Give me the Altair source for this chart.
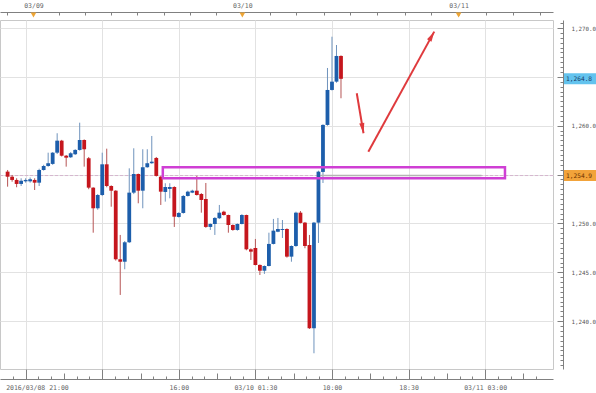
import math
import altair as alt
import pandas as pd

# ---------------- data (30-minute candles) ----------------
opens = [1255.30, 1254.78, 1254.45, 1254.04, 1254.31, 1254.31, 1254.45, 1254.17, 1255.47, 1255.88,
         1256.09, 1257.24, 1258.47, 1256.93, 1256.77, 1257.08, 1257.52, 1258.54, 1256.67, 1253.66,
         1251.55, 1252.91, 1256.05, 1253.83, 1253.35, 1246.33, 1246.08, 1248.07, 1253.15, 1255.06,
         1253.35, 1255.75, 1256.16, 1256.70, 1254.78, 1253.22, 1253.53, 1253.73, 1250.66, 1251.07,
         1252.81, 1253.15, 1253.35, 1253.01, 1252.50, 1249.64, 1249.94, 1250.53, 1251.20, 1250.86,
         1249.84, 1249.33, 1249.94, 1250.86, 1247.35, 1247.49, 1245.75, 1245.16, 1245.64, 1247.90,
         1249.15, 1249.33, 1249.43, 1246.60, 1247.69, 1251.10, 1250.08, 1247.79, 1239.27, 1250.08,
         1255.27, 1260.08, 1263.66, 1264.51, 1267.14]
highs = [1255.47, 1254.96, 1254.62, 1254.62, 1254.62, 1254.70, 1254.62, 1255.60, 1256.00, 1257.24,
         1257.30, 1259.23, 1258.55, 1257.00, 1257.30, 1257.60, 1260.31, 1258.60, 1256.80, 1253.70,
         1253.00, 1257.24, 1257.65, 1253.90, 1253.40, 1248.82, 1248.20, 1255.64, 1257.69, 1255.10,
         1257.59, 1257.59, 1258.95, 1256.80, 1254.85, 1254.11, 1254.11, 1253.80, 1251.15, 1252.90,
         1253.35, 1253.45, 1254.86, 1253.10, 1254.14, 1250.00, 1250.65, 1251.89, 1251.30, 1250.90,
         1249.90, 1250.00, 1250.95, 1250.90, 1247.45, 1248.41, 1245.80, 1245.70, 1249.05, 1250.46,
         1250.56, 1250.35, 1249.50, 1247.75, 1251.20, 1251.27, 1250.15, 1248.82, 1250.15, 1255.40,
         1260.15, 1265.91, 1269.11, 1268.26, 1267.20]
lows = [1253.76, 1254.27, 1253.70, 1253.83, 1254.17, 1254.17, 1253.42, 1253.83, 1255.40, 1255.80,
        1256.00, 1257.10, 1256.85, 1255.81, 1256.70, 1257.00, 1257.45, 1255.81, 1253.50, 1249.05,
        1251.40, 1252.80, 1253.70, 1251.71, 1246.20, 1242.68, 1245.31, 1248.00, 1253.00, 1252.06,
        1251.55, 1255.70, 1256.10, 1254.80, 1251.89, 1252.23, 1252.57, 1249.64, 1250.60, 1251.00,
        1252.75, 1253.10, 1252.85, 1251.10, 1249.55, 1249.33, 1248.82, 1250.45, 1250.80, 1249.05,
        1249.25, 1249.25, 1249.90, 1247.25, 1246.26, 1245.70, 1244.72, 1244.83, 1245.60, 1247.85,
        1249.10, 1248.51, 1246.50, 1246.08, 1247.60, 1250.00, 1247.46, 1239.20, 1236.71, 1248.00,
        1254.14, 1260.00, 1263.60, 1264.40, 1262.81]
closes = [1254.78, 1254.45, 1254.04, 1254.37, 1254.45, 1254.52, 1254.17, 1255.47, 1255.88, 1256.16,
          1257.24, 1258.47, 1256.93, 1256.73, 1257.18, 1257.52, 1258.54, 1257.59, 1253.66, 1251.55,
          1252.91, 1256.05, 1253.83, 1253.35, 1246.33, 1246.08, 1248.07, 1253.15, 1255.06, 1253.35,
          1255.75, 1256.16, 1256.32, 1254.86, 1253.25, 1253.73, 1253.73, 1250.69, 1251.07, 1252.81,
          1253.25, 1253.35, 1252.91, 1252.40, 1249.64, 1249.94, 1250.56, 1251.10, 1250.86, 1249.84,
          1249.33, 1249.94, 1250.86, 1247.35, 1247.11, 1245.75, 1245.16, 1245.64, 1247.90, 1249.26,
          1249.43, 1249.43, 1246.60, 1247.69, 1251.10, 1250.05, 1247.69, 1239.27, 1250.08, 1255.30,
          1260.08, 1263.66, 1264.51, 1267.14, 1264.80]
candle_idx = list(range(len(opens)))

# bottom time axis (major ticks in candle index units) and its labels
major_x = [4, 21, 38, 55, 72, 89, 106]
major_x_labels = ["2016/03/08 21:00", "", "16:00", "03/10 01:30", "10:00", "18:30", "03/11 03:00"]

# top date axis
top_ticks = [-0.2, 5.74, 11.4, 17.2, 23.0, 28.8, 34.7, 40.5, 46.3, 52.1, 58.3, 64.1, 70.3,
             76.1, 82.1, 88.1, 94.0, 100.1, 106.1, 112.2, 118.2]
date_idx = [5.74, 52.1, 100.1]
date_labels = ["03/09", "03/10", "03/11"]

# price axis labels
y_label_vals = [1240, 1245, 1250, 1260, 1270]

# highlighted prices on the right axis
hl_prices = [1264.8, 1254.9]
hl_fill = ["#63c3ee", "#f2a33a"]
hl_text_color = ["#163a66", "#6b3000"]

# annotations
level_price = 1254.9
box_x = [34.45, 110.4]
box_y = [1255.75, 1254.62]
seg_x = [69.5, 105.2]
arrow_x1 = [77.5, 80.07]
arrow_y1 = [1263.32, 1257.34]
arrow_x2 = [79.0, 94.7]
arrow_y2 = [1259.23, 1269.63]

# ---------------- scales / layout ----------------
W, H = 553, 349
X_DOMAIN = [-0.58, 119.95]
Y_DOMAIN = [1235.1, 1270.82]
xs = alt.Scale(domain=X_DOMAIN, nice=False, zero=False)
ys = alt.Scale(domain=Y_DOMAIN, nice=False, zero=False)
MONO = "DejaVu Sans Mono"
AXC = "#808080"

df = pd.DataFrame(dict(idx=candle_idx, open=opens, high=highs, low=lows, close=closes))


def label_expr(vals, labels):
    expr = "''"
    for v, l in reversed(list(zip(vals, labels))):
        expr = f"abs(datum.value - {v}) < 0.01 ? '{l}' : ({expr})"
    return expr


minor_x = []
for m in [major_x[0] - 17] + major_x:
    for k in range(1, 6):
        v = m + 17 * k / 6
        if X_DOMAIN[0] < v < X_DOMAIN[1]:
            minor_x.append(round(v, 4))
bottom_vals = sorted(major_x + minor_x)
first_major = major_x[0]

bottom_axis = alt.Axis(
    orient="bottom", offset=10, values=bottom_vals, title=None,
    tickSize=alt.ExprRef(expr="datum.value % 17 == 4 ? -10 : (datum.value % 17 == 12.5 ? -6 : -3)"),
    tickColor=AXC, domainColor=AXC,
    grid=True, gridColor="#e2e2e2",
    gridOpacity=alt.ExprRef(expr="datum.value % 17 == 4 ? 1 : 0"),
    labelExpr=label_expr(major_x, major_x_labels),
    labelFont=MONO, labelFontSize=6.5, labelColor="#666666", labelPadding=15,
    labelBaseline="top", labelOverlap=False, labelBound=False, labelFlush=False,
    labelAlign=alt.ExprRef(expr=f"datum.value == {first_major} ? 'left' : 'center'"),
    labelOffset=alt.ExprRef(expr=f"datum.value == {first_major} ? -20 : 0"),
)

top_axis = alt.Axis(
    orient="top", offset=8, values=top_ticks, title=None,
    tickSize=alt.ExprRef(expr="-3"), tickColor=AXC, domainColor=AXC, grid=False,
    labelExpr=label_expr(date_idx, date_labels),
    labelFont=MONO, labelFontSize=6.5, labelColor="#666666", labelPadding=7,
    labelOverlap=False, labelBound=False, labelFlush=False,
)

y_vals = [round(1235.5 + 0.5 * k, 1) for k in range(71)]
right_axis = alt.Axis(
    orient="right", offset=10, values=y_vals, title=None,
    tickSize=alt.ExprRef(expr="datum.value % 5 == 0 ? -6 : -3"),
    tickColor=AXC, domainColor=AXC,
    grid=True, gridColor="#e2e2e2",
    gridOpacity=alt.ExprRef(expr="datum.value % 5 == 0 ? 1 : 0"),
    labelExpr=f"indexof({y_label_vals}, datum.value) >= 0 ? format(datum.value, ',.1f') : ''",
    labelFont=MONO, labelFontSize=5.8, labelColor="#555555", labelPadding=14,
    labelOverlap=False, labelBound=False,
)

up_cond = "datum.close >= datum.open"
base = alt.Chart(df)

level = alt.Chart(pd.DataFrame({"p": [level_price]})).mark_rule(
    color="#d6b6cf", strokeDash=[3, 2], strokeWidth=1
).encode(y=alt.Y("p:Q", scale=ys, axis=None))

wicks = base.mark_rule(strokeWidth=1).encode(
    x=alt.X("idx:Q", scale=xs, axis=bottom_axis),
    y=alt.Y("low:Q", scale=ys, axis=right_axis),
    y2="high:Q",
    color=alt.condition(up_cond, alt.value("#6f93bd"), alt.value("#b65454")),
)

bodies = base.mark_bar(size=3.8).encode(
    x=alt.X("idx:Q", scale=xs, axis=top_axis),
    y=alt.Y("open:Q", scale=ys, axis=None),
    y2="close:Q",
    color=alt.condition(up_cond, alt.value("#1d5eab"), alt.value("#c5161d")),
)

seg = alt.Chart(pd.DataFrame({"x": [seg_x[0]], "x2": [seg_x[1]], "p": [level_price]})).mark_rule(
    color="#b4b4b4", strokeWidth=1.5
).encode(x=alt.X("x:Q", scale=xs, axis=None), x2="x2:Q", y=alt.Y("p:Q", scale=ys, axis=None))

box = alt.Chart(pd.DataFrame({"x": [box_x[0]], "x2": [box_x[1]], "y": [box_y[0]], "y2": [box_y[1]]})).mark_rect(
    fill=None, fillOpacity=0, stroke="#cf3fd4", strokeWidth=2.5
).encode(x=alt.X("x:Q", scale=xs, axis=None), x2="x2:Q",
         y=alt.Y("y:Q", scale=ys, axis=None), y2="y2:Q")

px_x = W / (X_DOMAIN[1] - X_DOMAIN[0])
px_y = H / (Y_DOMAIN[1] - Y_DOMAIN[0])
angles = []
for a, b, c, d in zip(arrow_x1, arrow_y1, arrow_x2, arrow_y2):
    ang = math.degrees(math.atan2((c - a) * px_x, (d - b) * px_y))
    angles.append(ang % 360)
arrows_df = pd.DataFrame({"x1": arrow_x1, "y1": arrow_y1, "x2": arrow_x2, "y2": arrow_y2, "ang": angles})

arrow_lines = alt.Chart(arrows_df).mark_rule(color="#df3a3d", strokeWidth=2).encode(
    x=alt.X("x1:Q", scale=xs, axis=None), x2="x2:Q",
    y=alt.Y("y1:Q", scale=ys, axis=None), y2="y2:Q",
)
arrow_heads = alt.Chart(arrows_df).mark_point(
    shape="M0,0L-0.45,1.8L0.45,1.8Z", filled=True, size=130, color="#df3a3d", opacity=1
).encode(
    x=alt.X("x2:Q", scale=xs, axis=None),
    y=alt.Y("y2:Q", scale=ys, axis=None),
    angle=alt.Angle("ang:Q", scale=None),
)

markers = alt.Chart(pd.DataFrame({"d": date_idx})).mark_point(
    shape="triangle-down", filled=True, size=32, color="#eea534", opacity=1
).encode(x=alt.X("d:Q", scale=xs, axis=None), y=alt.value(-5))

hl_df = pd.DataFrame({"p": hl_prices, "fill": hl_fill, "tc": hl_text_color,
                      "txt": [f"{v:,.1f}" for v in hl_prices]})
hl_rect = alt.Chart(hl_df).mark_rect(yOffset=-5.5, y2Offset=5.5).encode(
    x=alt.value(564), x2=alt.value(600),
    y=alt.Y("p:Q", scale=ys, axis=None), y2="p:Q",
    color=alt.Color("fill:N", scale=None),
)
hl_text = alt.Chart(hl_df).mark_text(align="left", baseline="middle", font=MONO, fontSize=6.2).encode(
    x=alt.value(566),
    y=alt.Y("p:Q", scale=ys, axis=None),
    text="txt:N",
    color=alt.Color("tc:N", scale=None),
)

chart = alt.layer(
    level, wicks, bodies, seg, box, arrow_lines, arrow_heads, markers, hl_rect, hl_text
).resolve_axis(x="independent", y="independent").properties(
    width=W, height=H,
    autosize=alt.AutoSizeParams(type="none"),
    padding={"left": 0, "top": 20, "right": 43, "bottom": 24},
    background="white",
).configure_view(stroke="#c8c8c8", strokeWidth=1)

chart.save("out.html", embed_options={"renderer": "svg", "actions": False})
